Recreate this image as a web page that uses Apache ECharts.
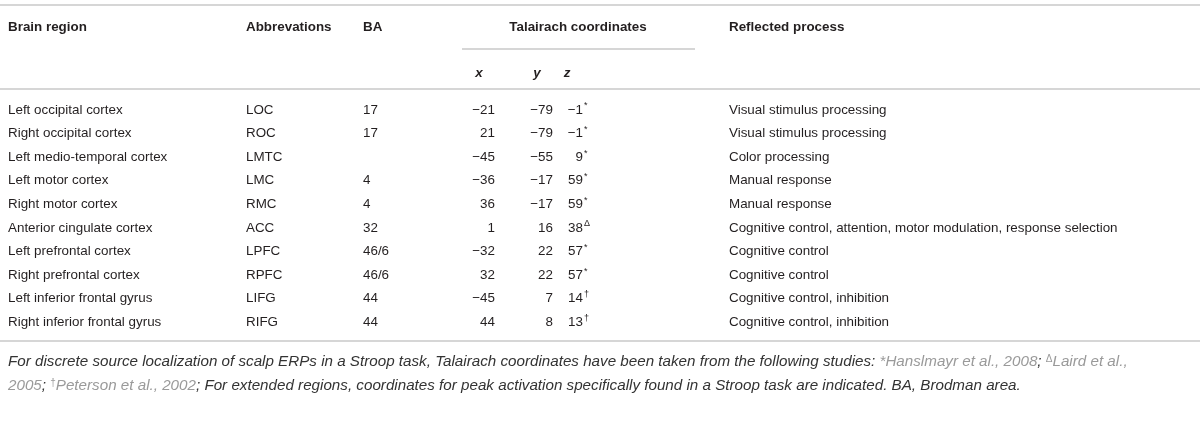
<!DOCTYPE html>
<html>
  <head>
    <meta charset="utf-8" />
    <script src="https://cdn.jsdelivr.net/npm/echarts@6/dist/echarts.min.js"></script>
  </head>
  <body style="margin: 0">
    <div id="main" style="width: 1200px; height: 427px"></div>

    <script type="text/javascript">
      // table contents
      const headers = ["Brain region", "Abbrevations", "BA", "Talairach coordinates", "Reflected process"];
      const coordHeaders = ["x", "y", "z"];
      const regions = [
        "Left occipital cortex", "Right occipital cortex", "Left medio-temporal cortex",
        "Left motor cortex", "Right motor cortex", "Anterior cingulate cortex",
        "Left prefrontal cortex", "Right prefrontal cortex", "Left inferior frontal gyrus",
        "Right inferior frontal gyrus"
      ];
      const abbrevs = ["LOC", "ROC", "LMTC", "LMC", "RMC", "ACC", "LPFC", "RPFC", "LIFG", "RIFG"];
      const ba = ["17", "17", "", "4", "4", "32", "46/6", "46/6", "44", "44"];
      const xs = [-21, 21, -45, -36, 36, 1, -32, 32, -45, 44];
      const ys = [-79, -79, -55, -17, -17, 16, 22, 22, 7, 8];
      const zs = [-1, -1, 9, 59, 59, 38, 57, 57, 14, 13];
      const zMarks = ["*", "*", "*", "*", "*", "\u0394", "*", "*", "\u2020", "\u2020"];
      const processes = [
        "Visual stimulus processing", "Visual stimulus processing", "Color processing",
        "Manual response", "Manual response",
        "Cognitive control, attention, motor modulation, response selection",
        "Cognitive control", "Cognitive control", "Cognitive control, inhibition",
        "Cognitive control, inhibition"
      ];

      const font = '"Liberation Sans", Arial, sans-serif';
      const ink = "#231f20";
      const rule = "#c8c8c8";
      const num = (v) => (v < 0 ? "\u2212" + Math.abs(v) : String(v));

      const els = [];
      function text(x, y, s, opt) {
        els.push({
          type: "text", x: x, y: y,
          style: Object.assign({ text: s, fill: ink, font: "13.4px " + font, textVerticalAlign: "middle" }, opt || {})
        });
      }
      function line(x1, y, x2, w) {
        els.push({ type: "line", shape: { x1: x1, y1: y, x2: x2, y2: y }, style: { stroke: rule, lineWidth: w || 1.5 } });
      }

      line(0, 5, 1200);
      const hx = [8, 246, 363, 578, 729];
      headers.forEach((h, i) => text(hx[i], 27, h, { font: "bold 13.4px " + font, textAlign: i === 3 ? "center" : "left" }));
      line(462, 49, 695);
      [479, 537, 567].forEach((x, i) => text(x, 73, coordHeaders[i], { font: "italic bold 13.4px " + font, textAlign: "center" }));
      line(0, 89, 1200);

      const rowY0 = 110, rowH = 23.6;
      regions.forEach((r, i) => {
        const y = rowY0 + i * rowH;
        text(8, y, r);
        text(246, y, abbrevs[i]);
        text(363, y, ba[i]);
        text(495, y, num(xs[i]), { textAlign: "right" });
        text(553, y, num(ys[i]), { textAlign: "right" });
        text(583, y, num(zs[i]), { textAlign: "right" });
        text(584, y - 4, zMarks[i], { font: "9px " + font });
        text(729, y, processes[i]);
      });
      line(0, 341, 1200);

      const fs = {
        fill: "#333", font: "italic 15.2px " + font, textVerticalAlign: "middle",
        rich: {
          c: { fill: "#9a9a9a", fontStyle: "italic", fontSize: 15.2, fontFamily: "Liberation Sans" },
          s: { fill: "#9a9a9a", fontSize: 10, fontFamily: "Liberation Sans", verticalAlign: "top" }
        }
      };
      text(8, 362, "For discrete source localization of scalp ERPs in a Stroop task, Talairach coordinates have been taken from the following studies: {c|*Hanslmayr et al., 2008}; {s|\u0394}{c|Laird et al.,}", fs);
      text(8, 386, "{c|2005}; {s|\u2020}{c|Peterson et al., 2002}; For extended regions, coordinates for peak activation specifically found in a Stroop task are indicated. BA, Brodman area.", fs);

      const myChart = echarts.init(document.getElementById("main"));
      myChart.setOption({ backgroundColor: "#fff", graphic: { elements: els } });
    </script>
  </body>
</html>
